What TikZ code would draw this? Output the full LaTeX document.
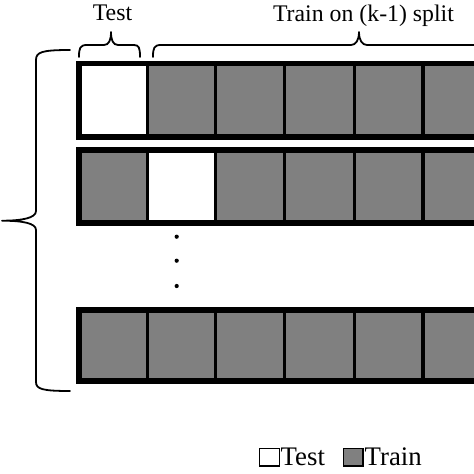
\documentclass[tikz,border=0pt]{standalone}
\usepackage{fontspec}
\setmainfont{Liberation Serif}
\definecolor{cellgray}{HTML}{808080}
\begin{document}
\begin{tikzpicture}[x=1pt,y=-1pt,
  rowbg/.style={fill=black},
  traincell/.style={fill=cellgray},
  testcell/.style={fill=white},
  bracestroke/.style={draw=black,line width=1.8pt,line cap=round,line join=round},
  toplabel/.style={font=\fontsize{23.8}{28}\selectfont,anchor=base,inner sep=0pt},
  leglabel/.style={font=\fontsize{26.8}{30}\selectfont,anchor=base west,inner sep=0pt},
  legbox/.style={draw=black,line width=1.6pt}]
\clip (0,0) rectangle (474,474);
\fill[white] (0,0) rectangle (474,474);

% labels
\node[toplabel] (testlbl) at (112.5,20.7) {Test};
\node[toplabel] (trainlbl) at (363.5,21.3) {Train on (k-1) split};

% top braces
\draw[bracestroke] (79,57) .. controls (79,48) and (80,45) .. (87,45) -- (104,45)
  .. controls (109,45) and (111,40) .. (111,32) .. controls (111,40) and (113,45) .. (118,45)
  -- (134,45) .. controls (139,45) and (140,48) .. (140,57);
\draw[bracestroke] (153,57) .. controls (153,48) and (154,45) .. (161,45) -- (351,45)
  .. controls (356,45) and (359,40) .. (359,32) .. controls (359,40) and (362,45) .. (367,45)
  -- (480,45);

% left brace
\draw[bracestroke] (70,50) .. controls (42,50) and (36,52) .. (36,60) -- (36,211)
  .. controls (36,218) and (22,220.7) .. (2,220.7) .. controls (22,220.7) and (36,223) .. (36,230)
  -- (36,382) .. controls (36,389) and (42,391) .. (70,391);

% row 1
\fill[rowbg] (76,60.5) rectangle (480,140);
\fill[testcell]  (82,66) rectangle (146,134);
\fill[traincell] (149,66) rectangle (213.5,134);
\fill[traincell] (217,66) rectangle (283,134);
\fill[traincell] (286,66) rectangle (352.5,134);
\fill[traincell] (355.5,66) rectangle (421,134);
\fill[traincell] (424.5,66) rectangle (480,134);

% row 2
\fill[rowbg] (76,147) rectangle (480,226);
\fill[traincell] (82,153.3) rectangle (146,220);
\fill[testcell]  (149,153.3) rectangle (213.5,220);
\fill[traincell] (217,153.3) rectangle (283,220);
\fill[traincell] (286,153.3) rectangle (352.5,220);
\fill[traincell] (355.5,153.3) rectangle (421,220);
\fill[traincell] (424.5,153.3) rectangle (480,220);

% dots
\fill (176.7,236.7) circle (2.1);
\fill (176.7,260.7) circle (2.1);
\fill (176.7,286) circle (2.1);

% row 3
\fill[rowbg] (76,306.7) rectangle (480,384);
\fill[traincell] (82,312.7) rectangle (146,378);
\fill[traincell] (149,312.7) rectangle (213.5,378);
\fill[traincell] (217,312.7) rectangle (283,378);
\fill[traincell] (286,312.7) rectangle (352.5,378);
\fill[traincell] (355.5,312.7) rectangle (421,378);
\fill[traincell] (424.5,312.7) rectangle (480,378);

% legend
\draw[legbox,fill=white] (259.5,448.5) rectangle (279.5,466);
\node[leglabel] (legtest) at (280.5,465.3) {Test};
\draw[legbox,fill=cellgray] (343.5,448.5) rectangle (363,466);
\node[leglabel] (legtrain) at (364.5,465.3) {Train};
\end{tikzpicture}
\end{document}
